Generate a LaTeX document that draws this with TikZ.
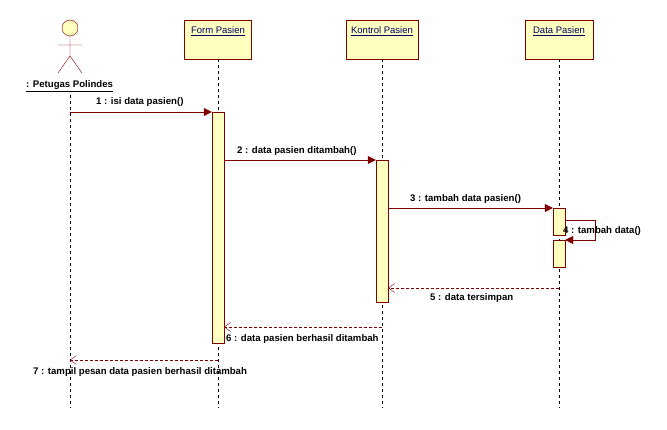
\documentclass[tikz,border=0pt]{standalone}
\usepackage{fontspec}
\setmainfont{Liberation Sans}
\usetikzlibrary{arrows.meta}
\definecolor{ln}{HTML}{800000}
\definecolor{fillc}{HTML}{FFFFC0}
\tikzset{
 objbox/.style={draw=ln,fill=fillc,minimum width=67pt,minimum height=39pt,anchor=north,inner sep=0pt,text=blue!40!black},
 boxtxt/.style={font=\fontsize{9.5}{10}\selectfont,text=blue!40!black,inner sep=0pt},
 act/.style={draw=ln,fill=fillc},
 life/.style={draw=black,dashed,dash pattern=on 3pt off 3pt},
 msg/.style={draw=ln,-{Triangle[length=8pt,width=8pt]}},
 ret/.style={draw=ln,dashed,dash pattern=on 3pt off 2pt,-{Straight Barb[length=6pt,width=9pt]}},
 lbl/.style={font=\bfseries\fontsize{9.6}{11}\selectfont,inner sep=1pt,anchor=west}
}
\begin{document}
\begin{tikzpicture}[x=1pt,y=-1pt]
\useasboundingbox (0,0) rectangle (667,430);
% actor
\draw[ln,fill=fillc] (70,28) circle (8);
\draw[ln] (70,36)--(70,56) (58,45)--(82,45) (70,56)--(58,73) (70,56)--(82,73);
\node[lbl] (pet) at (25,86) {\underline{: Petugas Polindes}};
\node[objbox] (form) at (218,20) {};
\node[objbox,minimum width=72pt] (kon) at (382,20) {};
\node[objbox,minimum width=68pt] (dat) at (559,20) {};
\node[boxtxt] (formt) at (218,31) {\underline{Form Pasien}};
\node[boxtxt] (kont) at (382,31) {\underline{Kontrol Pasien}};
\node[boxtxt] (datt) at (559,31) {\underline{Data Pasien}};
% lifelines
\coordinate (pe) at (70,408); \coordinate (fe) at (218,408);
\coordinate (ke) at (382,408); \coordinate (de) at (559,408);
\draw[life] (70,95)--(pe);
\draw[life] (form.south)--(fe);
\draw[life] (kon.south)--(ke);
\draw[life] (dat.south)--(de);
% activations
\node[act,minimum width=12pt,minimum height=231pt,anchor=north,inner sep=0pt] (af) at (218,112) {};
\node[act,minimum width=12pt,minimum height=142pt,anchor=north,inner sep=0pt] (ak) at (382,160) {};
\node[act,minimum width=12pt,minimum height=27pt,anchor=north,inner sep=0pt] (ad1) at (559,208) {};
\node[act,minimum width=12pt,minimum height=27pt,anchor=north,inner sep=0pt] (ad2) at (559,240) {};
% messages
\coordinate (p1) at (70,112);
\draw[msg] (p1) -- (af.north west);
\node[lbl] at (95,102) {1 : isi data pasien()};
\coordinate (m2) at (224,160);
\draw[msg] (m2) -- (ak.north west);
\node[lbl] at (236,151) {2 : data pasien ditambah()};
\draw[msg] (ak.east |- ad1.north) -- (ad1.north west);
\node[lbl] at (409,199) {3 : tambah data pasien()};
\coordinate (s1) at (595,220); \coordinate (s2) at (595,240);
\draw[msg] (ad1.east |- s1) -- (s1) -- (s2) -- (ad2.north east);
\node[lbl] at (562,231) {4 : tambah data()};
\coordinate (r5) at (559,288);
\draw[ret] (r5) -- (ak.east |- r5);
\node[lbl] at (429,298) {5 : data tersimpan};
\coordinate (r6) at (382,327);
\draw[ret] (r6) -- (af.east |- r6);
\node[lbl] at (225,339) {6 : data pasien berhasil ditambah};
\coordinate (r7) at (218,360);
\draw[ret] (r7) -- (70,360);
\node[lbl] at (32,372) {7 : tampil pesan data pasien berhasil ditambah};
\end{tikzpicture}
\end{document}
